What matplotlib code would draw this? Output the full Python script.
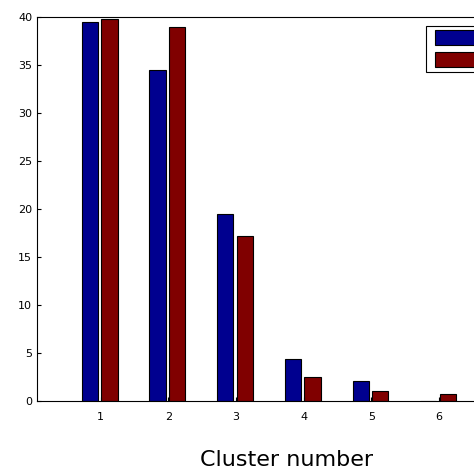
import matplotlib.pyplot as plt
from matplotlib.patches import Rectangle
import numpy as np

clusters = [1, 2, 3, 4, 5, 6]
series_a = [39.5, 34.5, 19.5, 4.4, 2.1, 0.0]
series_b = [39.8, 39.0, 17.2, 2.5, 1.0, 0.7]
yticks = [0, 5, 10, 15, 20, 25, 30, 35, 40]

fig = plt.figure(figsize=(4.74, 4.74), dpi=100)
ax = fig.add_axes([0.078, 0.154, 1.0, 0.81])
x = np.array(clusters)
ax.bar(x - 0.16, series_a, width=0.24, color='#00008f', edgecolor='black', linewidth=0.8)
ax.bar(x + 0.13, series_b, width=0.24, color='#800000', edgecolor='black', linewidth=0.8)
ax.set_xlim(0.06, 7.06)
ax.set_ylim(0, 40)
ax.set_xticks(clusters)
ax.set_yticks(yticks)
ax.tick_params(labelsize=8, direction='in', length=3)
ax.tick_params(axis='x', pad=8)

# legend box (cut off at the right edge)
fig.patches.append(Rectangle((426/474, 1-72/474), 0.2, 46/474, transform=fig.transFigure,
                             facecolor='white', edgecolor='black', linewidth=0.8))
fig.patches.append(Rectangle((435/474, 1-45/474), 0.2, 15/474, transform=fig.transFigure,
                             facecolor='#00008f', edgecolor='black', linewidth=0.8))
fig.patches.append(Rectangle((435/474, 1-67/474), 0.2, 15/474, transform=fig.transFigure,
                             facecolor='#800000', edgecolor='black', linewidth=0.8))

fig.text(287/474, 1-460/474, 'Cluster number', fontsize=16, ha='center', va='center')
fig.savefig('out.png', dpi=100)
